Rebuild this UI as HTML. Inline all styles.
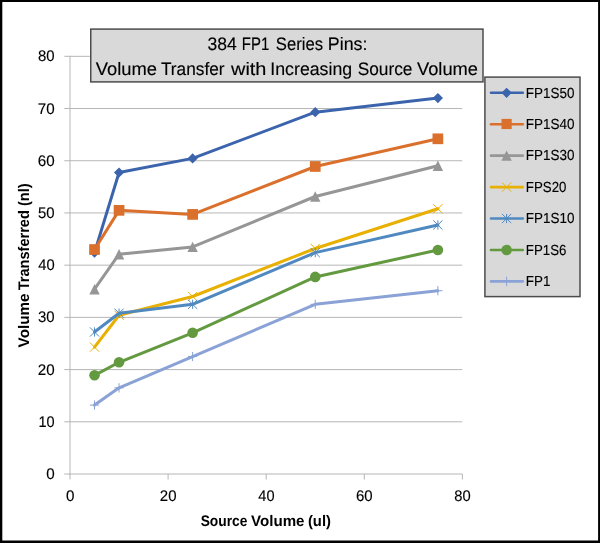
<!DOCTYPE html>
<html><head><meta charset="utf-8"><title>chart</title>
<style>
html,body{margin:0;padding:0;background:#fff;}
body{width:600px;height:543px;overflow:hidden;}
svg{display:block;will-change:transform;}
text{font-family:"Liberation Sans",sans-serif;fill:#000;text-rendering:geometricPrecision;}
</style></head><body>
<svg width="600" height="543" viewBox="0 0 600 543">
<rect x="0" y="0" width="600" height="543" fill="#fff"/>

<line x1="70.0" y1="421.79" x2="462.2" y2="421.79" stroke="#b6b6b6" stroke-width="1"/>
<line x1="70.0" y1="369.58" x2="462.2" y2="369.58" stroke="#b6b6b6" stroke-width="1"/>
<line x1="70.0" y1="317.37" x2="462.2" y2="317.37" stroke="#b6b6b6" stroke-width="1"/>
<line x1="70.0" y1="265.16" x2="462.2" y2="265.16" stroke="#b6b6b6" stroke-width="1"/>
<line x1="70.0" y1="212.95" x2="462.2" y2="212.95" stroke="#b6b6b6" stroke-width="1"/>
<line x1="70.0" y1="160.74" x2="462.2" y2="160.74" stroke="#b6b6b6" stroke-width="1"/>
<line x1="70.0" y1="108.53" x2="462.2" y2="108.53" stroke="#b6b6b6" stroke-width="1"/>
<line x1="70.0" y1="56.32" x2="462.2" y2="56.32" stroke="#b6b6b6" stroke-width="1"/>
<line x1="70.0" y1="55.82" x2="70.0" y2="474.5" stroke="#b6b6b6" stroke-width="1"/>
<line x1="69.5" y1="474.0" x2="462.2" y2="474.0" stroke="#b6b6b6" stroke-width="1"/>
<line x1="64.3" y1="474.00" x2="70.0" y2="474.00" stroke="#b6b6b6" stroke-width="1"/>
<line x1="64.3" y1="421.79" x2="70.0" y2="421.79" stroke="#b6b6b6" stroke-width="1"/>
<line x1="64.3" y1="369.58" x2="70.0" y2="369.58" stroke="#b6b6b6" stroke-width="1"/>
<line x1="64.3" y1="317.37" x2="70.0" y2="317.37" stroke="#b6b6b6" stroke-width="1"/>
<line x1="64.3" y1="265.16" x2="70.0" y2="265.16" stroke="#b6b6b6" stroke-width="1"/>
<line x1="64.3" y1="212.95" x2="70.0" y2="212.95" stroke="#b6b6b6" stroke-width="1"/>
<line x1="64.3" y1="160.74" x2="70.0" y2="160.74" stroke="#b6b6b6" stroke-width="1"/>
<line x1="64.3" y1="108.53" x2="70.0" y2="108.53" stroke="#b6b6b6" stroke-width="1"/>
<line x1="64.3" y1="56.32" x2="70.0" y2="56.32" stroke="#b6b6b6" stroke-width="1"/>
<line x1="70.00" y1="474.0" x2="70.00" y2="479.5" stroke="#b6b6b6" stroke-width="1"/>
<line x1="168.10" y1="474.0" x2="168.10" y2="479.5" stroke="#b6b6b6" stroke-width="1"/>
<line x1="266.20" y1="474.0" x2="266.20" y2="479.5" stroke="#b6b6b6" stroke-width="1"/>
<line x1="364.30" y1="474.0" x2="364.30" y2="479.5" stroke="#b6b6b6" stroke-width="1"/>
<line x1="462.40" y1="474.0" x2="462.40" y2="479.5" stroke="#b6b6b6" stroke-width="1"/>
<text x="46.23" y="479.10" font-size="15.4" stroke="#000" stroke-width="0.14" textLength="8.45" lengthAdjust="spacingAndGlyphs">0</text>
<text x="38.49" y="426.89" font-size="15.4" stroke="#000" stroke-width="0.14" textLength="16.17" lengthAdjust="spacingAndGlyphs">10</text>
<text x="37.79" y="374.68" font-size="15.4" stroke="#000" stroke-width="0.14" textLength="16.89" lengthAdjust="spacingAndGlyphs">20</text>
<text x="38.03" y="322.47" font-size="15.4" stroke="#000" stroke-width="0.14" textLength="16.64" lengthAdjust="spacingAndGlyphs">30</text>
<text x="38.27" y="270.26" font-size="15.4" stroke="#000" stroke-width="0.14" textLength="16.40" lengthAdjust="spacingAndGlyphs">40</text>
<text x="38.03" y="218.05" font-size="15.4" stroke="#000" stroke-width="0.14" textLength="16.64" lengthAdjust="spacingAndGlyphs">50</text>
<text x="37.79" y="165.84" font-size="15.4" stroke="#000" stroke-width="0.14" textLength="16.89" lengthAdjust="spacingAndGlyphs">60</text>
<text x="37.79" y="113.63" font-size="15.4" stroke="#000" stroke-width="0.14" textLength="16.89" lengthAdjust="spacingAndGlyphs">70</text>
<text x="38.03" y="61.42" font-size="15.4" stroke="#000" stroke-width="0.14" textLength="16.64" lengthAdjust="spacingAndGlyphs">80</text>
<text x="65.93" y="500.75" font-size="15.4" stroke="#000" stroke-width="0.14" textLength="8.45" lengthAdjust="spacingAndGlyphs">0</text>
<text x="159.80" y="500.75" font-size="15.4" stroke="#000" stroke-width="0.14" textLength="16.68" lengthAdjust="spacingAndGlyphs">20</text>
<text x="258.37" y="500.75" font-size="15.4" stroke="#000" stroke-width="0.14" textLength="16.19" lengthAdjust="spacingAndGlyphs">40</text>
<text x="356.00" y="500.75" font-size="15.4" stroke="#000" stroke-width="0.14" textLength="16.68" lengthAdjust="spacingAndGlyphs">60</text>
<text x="454.34" y="500.75" font-size="15.4" stroke="#000" stroke-width="0.14" textLength="16.43" lengthAdjust="spacingAndGlyphs">80</text>
<polyline points="94.53,252.63 119.05,172.49 192.62,158.39 315.25,112.18 437.88,98.09" fill="none" stroke="#3B64AD" stroke-width="3.0" stroke-linejoin="round" stroke-linecap="round"/>
<path d="M94.53 247.53L99.62 252.63L94.53 257.73L89.43 252.63Z" fill="#3B64AD"/>
<path d="M119.05 167.39L124.15 172.49L119.05 177.59L113.95 172.49Z" fill="#3B64AD"/>
<path d="M192.62 153.29L197.72 158.39L192.62 163.49L187.53 158.39Z" fill="#3B64AD"/>
<path d="M315.25 107.08L320.35 112.18L315.25 117.28L310.15 112.18Z" fill="#3B64AD"/>
<path d="M437.88 92.99L442.98 98.09L437.88 103.19L432.77 98.09Z" fill="#3B64AD"/>
<polyline points="94.53,249.50 119.05,210.34 192.62,214.41 315.25,166.48 437.88,138.81" fill="none" stroke="#DA702C" stroke-width="3.0" stroke-linejoin="round" stroke-linecap="round"/>
<rect x="89.18" y="244.15" width="10.70" height="10.70" fill="#DA702C"/>
<rect x="113.70" y="204.99" width="10.70" height="10.70" fill="#DA702C"/>
<rect x="187.28" y="209.06" width="10.70" height="10.70" fill="#DA702C"/>
<rect x="309.90" y="161.13" width="10.70" height="10.70" fill="#DA702C"/>
<rect x="432.52" y="133.46" width="10.70" height="10.70" fill="#DA702C"/>
<polyline points="94.53,289.18 119.05,254.20 192.62,246.89 315.25,196.50 437.88,165.70" fill="none" stroke="#969696" stroke-width="3.0" stroke-linejoin="round" stroke-linecap="round"/>
<path d="M94.53 283.98L99.73 294.38L89.33 294.38Z" fill="#969696"/>
<path d="M119.05 249.00L124.25 259.40L113.85 259.40Z" fill="#969696"/>
<path d="M192.62 241.69L197.82 252.09L187.43 252.09Z" fill="#969696"/>
<path d="M315.25 191.30L320.45 201.70L310.05 201.70Z" fill="#969696"/>
<path d="M437.88 160.50L443.07 170.90L432.68 170.90Z" fill="#969696"/>
<polyline points="94.53,347.13 119.05,315.28 192.62,296.49 315.25,248.45 437.88,208.77" fill="none" stroke="#E8B000" stroke-width="3.0" stroke-linejoin="round" stroke-linecap="round"/>
<path d="M89.93 342.53L99.12 351.73M89.93 351.73L99.12 342.53" stroke="#E8B000" stroke-width="1" fill="none"/>
<path d="M114.45 310.68L123.65 319.88M114.45 319.88L123.65 310.68" stroke="#E8B000" stroke-width="1" fill="none"/>
<path d="M188.03 291.89L197.22 301.09M188.03 301.09L197.22 291.89" stroke="#E8B000" stroke-width="1" fill="none"/>
<path d="M310.65 243.85L319.85 253.05M310.65 253.05L319.85 243.85" stroke="#E8B000" stroke-width="1" fill="none"/>
<path d="M433.27 204.17L442.48 213.37M433.27 213.37L442.48 204.17" stroke="#E8B000" stroke-width="1" fill="none"/>
<polyline points="94.53,331.99 119.05,313.19 192.62,304.32 315.25,252.63 437.88,224.96" fill="none" stroke="#5089C0" stroke-width="3.0" stroke-linejoin="round" stroke-linecap="round"/>
<path d="M89.93 327.39L99.12 336.59M89.93 336.59L99.12 327.39M94.53 327.39L94.53 336.59" stroke="#5089C0" stroke-width="1" fill="none"/>
<path d="M114.45 308.59L123.65 317.79M114.45 317.79L123.65 308.59M119.05 308.59L119.05 317.79" stroke="#5089C0" stroke-width="1" fill="none"/>
<path d="M188.03 299.72L197.22 308.92M188.03 308.92L197.22 299.72M192.62 299.72L192.62 308.92" stroke="#5089C0" stroke-width="1" fill="none"/>
<path d="M310.65 248.03L319.85 257.23M310.65 257.23L319.85 248.03M315.25 248.03L315.25 257.23" stroke="#5089C0" stroke-width="1" fill="none"/>
<path d="M433.27 220.36L442.48 229.56M433.27 229.56L442.48 220.36M437.88 220.36L437.88 229.56" stroke="#5089C0" stroke-width="1" fill="none"/>
<polyline points="94.53,375.32 119.05,362.27 192.62,332.77 315.25,276.91 437.88,250.02" fill="none" stroke="#639A3F" stroke-width="3.0" stroke-linejoin="round" stroke-linecap="round"/>
<circle cx="94.53" cy="375.32" r="5.3" fill="#639A3F"/>
<circle cx="119.05" cy="362.27" r="5.3" fill="#639A3F"/>
<circle cx="192.62" cy="332.77" r="5.3" fill="#639A3F"/>
<circle cx="315.25" cy="276.91" r="5.3" fill="#639A3F"/>
<circle cx="437.88" cy="250.02" r="5.3" fill="#639A3F"/>
<polyline points="94.53,405.08 119.05,387.85 192.62,356.53 315.25,304.32 437.88,290.74" fill="none" stroke="#8AA2D6" stroke-width="3.0" stroke-linejoin="round" stroke-linecap="round"/>
<path d="M89.93 405.08L99.12 405.08M94.53 400.48L94.53 409.68" stroke="#8AA2D6" stroke-width="1" fill="none"/>
<path d="M114.45 387.85L123.65 387.85M119.05 383.25L119.05 392.45" stroke="#8AA2D6" stroke-width="1" fill="none"/>
<path d="M188.03 356.53L197.22 356.53M192.62 351.93L192.62 361.13" stroke="#8AA2D6" stroke-width="1" fill="none"/>
<path d="M310.65 304.32L319.85 304.32M315.25 299.72L315.25 308.92" stroke="#8AA2D6" stroke-width="1" fill="none"/>
<path d="M433.27 290.74L442.48 290.74M437.88 286.14L437.88 295.34" stroke="#8AA2D6" stroke-width="1" fill="none"/>
<rect x="90.75" y="29.1" width="392.25" height="52.8" fill="#d9d9d9" stroke="#4c4c4c" stroke-width="1.5"/>
<text x="207.45" y="50.00" font-size="18" stroke="#000" stroke-width="0.14" textLength="29.29" lengthAdjust="spacingAndGlyphs">384</text>
<text x="241.83" y="50.00" font-size="18" stroke="#000" stroke-width="0.14" textLength="27.48" lengthAdjust="spacingAndGlyphs">FP1</text>
<text x="275.78" y="50.00" font-size="18" stroke="#000" stroke-width="0.14" textLength="47.24" lengthAdjust="spacingAndGlyphs">Series</text>
<text x="327.81" y="50.00" font-size="18" stroke="#000" stroke-width="0.14" textLength="39.60" lengthAdjust="spacingAndGlyphs">Pins:</text>
<text x="95.70" y="74.70" font-size="18" stroke="#000" stroke-width="0.14" textLength="61.24" lengthAdjust="spacingAndGlyphs">Volume</text>
<text x="160.93" y="74.70" font-size="18" stroke="#000" stroke-width="0.14" textLength="63.65" lengthAdjust="spacingAndGlyphs">Transfer</text>
<text x="231.01" y="74.70" font-size="18" stroke="#000" stroke-width="0.14" textLength="35.41" lengthAdjust="spacingAndGlyphs">with</text>
<text x="270.31" y="74.70" font-size="18" stroke="#000" stroke-width="0.14" textLength="81.88" lengthAdjust="spacingAndGlyphs">Increasing</text>
<text x="357.66" y="74.70" font-size="18" stroke="#000" stroke-width="0.14" textLength="54.74" lengthAdjust="spacingAndGlyphs">Source</text>
<text x="417.00" y="74.70" font-size="18" stroke="#000" stroke-width="0.14" textLength="61.04" lengthAdjust="spacingAndGlyphs">Volume</text>
<rect x="484.9" y="77.1" width="95.1" height="219.5" fill="#d9d9d9" stroke="#4c4c4c" stroke-width="1.5"/>
<line x1="491.0" y1="92.80" x2="522.8" y2="92.80" stroke="#3B64AD" stroke-width="2.6" stroke-linecap="round"/>
<path d="M506.60 87.70L511.70 92.80L506.60 97.90L501.50 92.80Z" fill="#3B64AD"/>
<text x="525.85" y="97.55" font-size="14.6" stroke="#000" stroke-width="0.14" textLength="48.69" lengthAdjust="spacingAndGlyphs">FP1S50</text>
<line x1="491.0" y1="124.23" x2="522.8" y2="124.23" stroke="#DA702C" stroke-width="2.6" stroke-linecap="round"/>
<rect x="501.50" y="118.88" width="10.20" height="10.20" fill="#DA702C"/>
<text x="525.85" y="128.98" font-size="14.6" stroke="#000" stroke-width="0.14" textLength="48.79" lengthAdjust="spacingAndGlyphs">FP1S40</text>
<line x1="491.0" y1="155.66" x2="522.8" y2="155.66" stroke="#969696" stroke-width="2.6" stroke-linecap="round"/>
<path d="M506.60 150.46L511.80 160.86L501.40 160.86Z" fill="#969696"/>
<text x="525.85" y="160.41" font-size="14.6" stroke="#000" stroke-width="0.14" textLength="48.69" lengthAdjust="spacingAndGlyphs">FP1S30</text>
<line x1="491.0" y1="187.09" x2="522.8" y2="187.09" stroke="#E8B000" stroke-width="2.6" stroke-linecap="round"/>
<path d="M502.00 182.49L511.20 191.69M502.00 191.69L511.20 182.49" stroke="#E8B000" stroke-width="1" fill="none"/>
<text x="525.86" y="191.84" font-size="14.6" stroke="#000" stroke-width="0.14" textLength="40.57" lengthAdjust="spacingAndGlyphs">FPS20</text>
<line x1="491.0" y1="218.52" x2="522.8" y2="218.52" stroke="#5089C0" stroke-width="2.6" stroke-linecap="round"/>
<path d="M502.00 213.92L511.20 223.12M502.00 223.12L511.20 213.92M506.60 213.92L506.60 223.12" stroke="#5089C0" stroke-width="1" fill="none"/>
<text x="525.85" y="223.27" font-size="14.6" stroke="#000" stroke-width="0.14" textLength="48.69" lengthAdjust="spacingAndGlyphs">FP1S10</text>
<line x1="491.0" y1="249.95" x2="522.8" y2="249.95" stroke="#639A3F" stroke-width="2.6" stroke-linecap="round"/>
<circle cx="506.60" cy="249.95" r="5.3" fill="#639A3F"/>
<text x="525.86" y="254.70" font-size="14.6" stroke="#000" stroke-width="0.14" textLength="40.57" lengthAdjust="spacingAndGlyphs">FP1S6</text>
<line x1="491.0" y1="281.38" x2="522.8" y2="281.38" stroke="#8AA2D6" stroke-width="2.6" stroke-linecap="round"/>
<path d="M502.00 281.38L511.20 281.38M506.60 276.78L506.60 285.98" stroke="#8AA2D6" stroke-width="1" fill="none"/>
<text x="525.85" y="286.13" font-size="14.6" stroke="#000" stroke-width="0.14" textLength="24.59" lengthAdjust="spacingAndGlyphs">FP1</text>
<text x="200.68" y="525.50" font-size="15.3" font-weight="bold" textLength="46.76" lengthAdjust="spacingAndGlyphs">Source</text>
<text x="251.10" y="525.50" font-size="15.3" font-weight="bold" textLength="53.43" lengthAdjust="spacingAndGlyphs">Volume</text>
<text x="307.91" y="525.50" font-size="15.3" font-weight="bold" textLength="23.03" lengthAdjust="spacingAndGlyphs">(ul)</text>
<g transform="translate(28.7,347.4) rotate(-90)">
<text x="0.00" y="0.00" font-size="15.3" font-weight="bold" textLength="53.88" lengthAdjust="spacingAndGlyphs">Volume</text>
<text x="57.20" y="0.00" font-size="15.3" font-weight="bold" textLength="80.03" lengthAdjust="spacingAndGlyphs">Transferred</text>
<text x="141.32" y="0.00" font-size="15.3" font-weight="bold" textLength="22.71" lengthAdjust="spacingAndGlyphs">(nl)</text>
</g>
<path d="M0 0H600V543H0Z M2.3 2.0H598.1V540.6H2.3Z" fill="#000" fill-rule="evenodd"/>
</svg></body></html>
